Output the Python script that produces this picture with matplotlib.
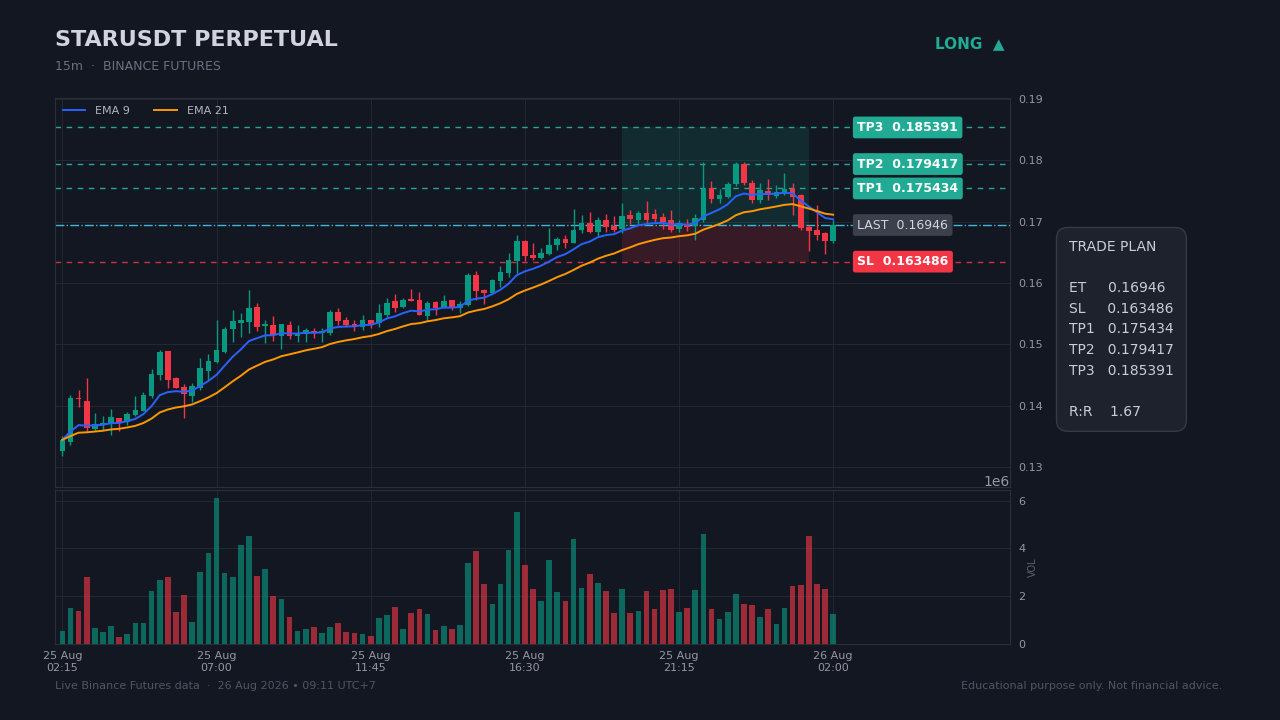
import numpy as np
import pandas as pd
import matplotlib
matplotlib.use("Agg")
import matplotlib.pyplot as plt
from matplotlib.ticker import FormatStrFormatter

# 15m candles, STARUSDT perp
opens = [0.1325, 0.1341, 0.1412, 0.1408, 0.1362, 0.1368, 0.1370, 0.1380, 0.1373, 0.1385,
         0.1391, 0.1415, 0.1450, 0.1489, 0.1445, 0.1430, 0.1416, 0.1429, 0.1457, 0.1471,
         0.1488, 0.1525, 0.1535, 0.1537, 0.1561, 0.1530, 0.1532, 0.1514, 0.1532, 0.1514,
         0.1516, 0.1522, 0.1519, 0.1519, 0.1552, 0.1539, 0.1533, 0.1529, 0.1540, 0.1534,
         0.1548, 0.1570, 0.1561, 0.1574, 0.1572, 0.1546, 0.1569, 0.1561, 0.1572, 0.1560,
         0.1564, 0.1613, 0.1588, 0.1583, 0.1604, 0.1617, 0.1636, 0.1668, 0.1646, 0.1641,
         0.1647, 0.1662, 0.1672, 0.1666, 0.1686, 0.1698, 0.1684, 0.1703, 0.1693, 0.1688,
         0.1711, 0.1703, 0.1714, 0.1712, 0.1707, 0.1703, 0.1688, 0.1697, 0.1693, 0.1703,
         0.1755, 0.1737, 0.1741, 0.1761, 0.1794, 0.1764, 0.1736, 0.1750, 0.1742, 0.1746,
         0.1753, 0.1744, 0.1691, 0.1686, 0.1681, 0.1669]
highs = [0.1350, 0.1417, 0.1426, 0.1445, 0.1388, 0.1383, 0.1395, 0.1380, 0.1390, 0.1416,
         0.1422, 0.1459, 0.1491, 0.1489, 0.1447, 0.1435, 0.1436, 0.1477, 0.1484, 0.1540,
         0.1529, 0.1556, 0.1551, 0.1589, 0.1568, 0.1540, 0.1546, 0.1533, 0.1538, 0.1532,
         0.1526, 0.1526, 0.1526, 0.1556, 0.1560, 0.1545, 0.1539, 0.1548, 0.1540, 0.1566,
         0.1575, 0.1582, 0.1575, 0.1590, 0.1586, 0.1570, 0.1570, 0.1580, 0.1573, 0.1570,
         0.1616, 0.1620, 0.1591, 0.1606, 0.1628, 0.1649, 0.1679, 0.1671, 0.1665, 0.1657,
         0.1690, 0.1675, 0.1678, 0.1720, 0.1711, 0.1716, 0.1707, 0.1712, 0.1709, 0.1730,
         0.1719, 0.1718, 0.1734, 0.1720, 0.1715, 0.1719, 0.1703, 0.1705, 0.1713, 0.1798,
         0.1767, 0.1754, 0.1765, 0.1798, 0.1798, 0.1768, 0.1764, 0.1769, 0.1760, 0.1780,
         0.1764, 0.1746, 0.1695, 0.1727, 0.1684, 0.1703]
lows = [0.1317, 0.1336, 0.1398, 0.1358, 0.1358, 0.1360, 0.1352, 0.1358, 0.1368, 0.1383,
        0.1391, 0.1412, 0.1442, 0.1428, 0.1428, 0.1379, 0.1405, 0.1426, 0.1442, 0.1469,
        0.1485, 0.1504, 0.1512, 0.1518, 0.1521, 0.1502, 0.1505, 0.1492, 0.1508, 0.1504,
        0.1504, 0.1511, 0.1504, 0.1515, 0.1532, 0.1529, 0.1522, 0.1523, 0.1526, 0.1529,
        0.1545, 0.1552, 0.1559, 0.1570, 0.1548, 0.1538, 0.1548, 0.1559, 0.1556, 0.1551,
        0.1562, 0.1572, 0.1566, 0.1582, 0.1594, 0.1609, 0.1617, 0.1636, 0.1638, 0.1639,
        0.1645, 0.1654, 0.1657, 0.1665, 0.1682, 0.1681, 0.1675, 0.1684, 0.1684, 0.1681,
        0.1697, 0.1697, 0.1697, 0.1700, 0.1688, 0.1684, 0.1684, 0.1685, 0.1670, 0.1700,
        0.1731, 0.1730, 0.1738, 0.1758, 0.1760, 0.1731, 0.1731, 0.1735, 0.1738, 0.1743,
        0.1711, 0.1686, 0.1653, 0.1671, 0.1648, 0.1665]
closes = [0.1344, 0.1412, 0.1410, 0.1363, 0.1370, 0.1372, 0.1382, 0.1373, 0.1386, 0.1393,
          0.1418, 0.1451, 0.1488, 0.1442, 0.1429, 0.1419, 0.1432, 0.1462, 0.1473, 0.1490,
          0.1525, 0.1538, 0.1539, 0.1560, 0.1529, 0.1533, 0.1515, 0.1533, 0.1514, 0.1518,
          0.1524, 0.1518, 0.1522, 0.1552, 0.1538, 0.1532, 0.1530, 0.1540, 0.1533, 0.1551,
          0.1568, 0.1560, 0.1572, 0.1571, 0.1548, 0.1568, 0.1560, 0.1571, 0.1559, 0.1565,
          0.1613, 0.1587, 0.1583, 0.1605, 0.1618, 0.1638, 0.1668, 0.1644, 0.1640, 0.1649,
          0.1662, 0.1672, 0.1666, 0.1686, 0.1698, 0.1684, 0.1703, 0.1692, 0.1686, 0.1709,
          0.1704, 0.1715, 0.1703, 0.1704, 0.1700, 0.1686, 0.1698, 0.1692, 0.1706, 0.1754,
          0.1737, 0.1744, 0.1761, 0.1794, 0.1764, 0.1735, 0.1752, 0.1744, 0.1749, 0.1754,
          0.1741, 0.1689, 0.1685, 0.1678, 0.1669, 0.16946]
# volume in millions
volumes_m = [0.54, 1.51, 1.38, 2.80, 0.67, 0.50, 0.75, 0.29, 0.42, 0.88,
             0.88, 2.22, 2.68, 2.80, 1.34, 2.05, 0.92, 3.01, 3.81, 6.11,
             2.97, 2.80, 4.14, 4.52, 2.85, 3.14, 2.01, 1.88, 1.13, 0.54,
             0.63, 0.71, 0.46, 0.71, 0.88, 0.50, 0.46, 0.42, 0.33, 1.09,
             1.21, 1.55, 0.63, 1.30, 1.46, 1.26, 0.59, 0.75, 0.63, 0.80,
             3.39, 3.89, 2.51, 1.67, 2.51, 3.93, 5.52, 3.31, 2.30, 1.80,
             3.51, 2.18, 1.80, 4.39, 2.34, 2.93, 2.55, 2.22, 1.30, 2.30,
             1.30, 1.38, 2.22, 1.46, 2.26, 2.30, 1.34, 1.51, 2.26, 4.60,
             1.46, 1.05, 1.34, 2.09, 1.67, 1.63, 1.13, 1.46, 0.84, 1.51,
             2.43, 2.47, 4.52, 2.51, 2.30, 1.26]

times = pd.date_range("2026-08-25 02:15", periods=len(closes), freq="15min")
tick_idx = [0, 19, 38, 57, 76, 95]

# trade plan
entry = 0.16946
sl = 0.163486
tp1 = 0.175434
tp2 = 0.179417
tp3 = 0.185391
rr = 1.67
plan_start, plan_end = 69, 92

BG = "#131722"
GRID = "#232733"
SPINE = "#2a2e39"
TXT = "#9598a1"
GREEN = "#089981"
RED = "#f23645"
TEAL_LBL = "#22ab94"

o = np.array(opens)
h = np.array(highs)
l = np.array(lows)
c = np.array(closes)
x = np.arange(len(c))
up = c >= o
cols = np.where(up, GREEN, RED)

ema9 = pd.Series(c).ewm(span=9, adjust=False).mean()
ema21 = pd.Series(c).ewm(span=21, adjust=False).mean()

fig = plt.figure(figsize=(12.8, 7.2), dpi=100, facecolor=BG)
ax = fig.add_axes([0.043, 0.3236, 0.7461, 0.5403], facecolor=BG)
axv = fig.add_axes([0.043, 0.1056, 0.7461, 0.2138], facecolor=BG, sharex=ax)

# plan zones
ax.fill_between([plan_start, plan_end], entry, tp3, color=GREEN, alpha=0.16, lw=0, zorder=1)
ax.fill_between([plan_start, plan_end], sl, entry, color=RED, alpha=0.16, lw=0, zorder=1)

# candles
ax.vlines(x, l, h, colors=cols, lw=1, zorder=3)
ax.bar(x, np.maximum(np.abs(c - o), 0.00008), bottom=np.minimum(o, c), width=0.7,
       color=cols, zorder=4)

ax.plot(x, ema9, color="#2962ff", lw=1.4, label="EMA 9", zorder=5)
ax.plot(x, ema21, color="#ff9800", lw=1.4, label="EMA 21", zorder=5)

# levels
for lvl in (tp3, tp2, tp1):
    ax.axhline(lvl, color="#26a69a", ls=(0, (4, 4)), lw=1, zorder=2)
ax.axhline(entry, color="#3fb8d8", ls="-.", lw=1, zorder=2)
ax.axhline(sl, color=RED, ls=(0, (4, 4)), lw=1, zorder=2, alpha=0.85)

yt = ax.get_yaxis_transform()
lbl_x = 0.840
for name, lvl in (("TP3", tp3), ("TP2", tp2), ("TP1", tp1)):
    ax.text(lbl_x, lvl, f"{name}  {lvl:.6f}", transform=yt, ha="left", va="center",
            fontsize=9, fontweight="bold", color="white", zorder=7,
            bbox=dict(boxstyle="round,pad=0.35,rounding_size=0.2", fc=TEAL_LBL, ec="none"))
ax.text(lbl_x, entry, f"LAST  {entry:.5f}", transform=yt, ha="left", va="center",
        fontsize=9, color="#d1d4dc", zorder=7,
        bbox=dict(boxstyle="round,pad=0.35,rounding_size=0.2", fc="#3b404c", ec="none"))
ax.text(lbl_x, sl, f"SL  {sl:.6f}", transform=yt, ha="left", va="center",
        fontsize=9, fontweight="bold", color="white", zorder=7,
        bbox=dict(boxstyle="round,pad=0.35,rounding_size=0.2", fc=RED, ec="none"))

ax.set_xlim(-0.9, 116.8)
ax.set_ylim(0.1267, 0.1902)
ax.set_yticks([0.13, 0.14, 0.15, 0.16, 0.17, 0.18, 0.19])
ax.yaxis.set_major_formatter(FormatStrFormatter("%.2f"))
ax.yaxis.tick_right()
ax.tick_params(axis="y", colors=TXT, labelsize=8, length=0, pad=6)
ax.tick_params(axis="x", length=0, labelbottom=False)
ax.grid(True, color=GRID, lw=0.8)
ax.set_axisbelow(True)

leg = ax.legend(loc="upper left", ncol=2, frameon=False, fontsize=8, labelcolor="#b2b5be",
                handlelength=2.0, handletextpad=0.9, columnspacing=2.2, borderaxespad=0.3)

# volume
vcols = np.where(up, GREEN, RED)
axv.bar(x, np.array(volumes_m) * 1e6, width=0.7, color=vcols, alpha=0.62, zorder=3)
axv.set_ylim(0, 6.44e6)
axv.set_yticks([0, 2e6, 4e6, 6e6])
axv.yaxis.tick_right()
axv.yaxis.set_label_position("right")
axv.set_ylabel("VOL", color="#5d606b", fontsize=7, labelpad=2)
axv.tick_params(axis="y", colors=TXT, labelsize=8, length=0, pad=6)
axv.tick_params(axis="x", colors=TXT, labelsize=8, length=0, pad=5)
axv.yaxis.get_offset_text().set_color(TXT)
axv.yaxis.get_offset_text().set_fontsize(10)
axv.set_xticks(tick_idx)
axv.set_xticklabels([times[i].strftime("%d %b\n%H:%M") for i in tick_idx])
axv.grid(True, color=GRID, lw=0.8)
axv.set_axisbelow(True)

for a in (ax, axv):
    for s in a.spines.values():
        s.set_color(SPINE)

# header
fig.text(55 / 1280, 0.944, "STARUSDT PERPETUAL", fontsize=16, fontweight="bold",
         color="#d1d4dc", va="center", ha="left")
fig.text(55 / 1280, 0.908, "15m  ·  BINANCE FUTURES", fontsize=9, color="#6b7080",
         va="center", ha="left")
fig.text(935 / 1280, 0.940, "LONG  ▲", fontsize=11, fontweight="bold", color="#22ab94",
         va="center", ha="left")

# trade plan box
plan = (
    "TRADE PLAN\n\n"
    f"ET     {entry:.5f}\n"
    f"SL     {sl:.6f}\n"
    f"TP1   {tp1:.6f}\n"
    f"TP2   {tp2:.6f}\n"
    f"TP3   {tp3:.6f}\n\n"
    f"R:R    {rr:.2f}"
)
fig.text(1069 / 1280, 1 - 240 / 720, plan, fontsize=10, color="#c9cdd6", va="top", ha="left",
         linespacing=1.6,
         bbox=dict(boxstyle="round,pad=0.9,rounding_size=0.8", fc="#1e222d", ec="#363a45"))

# footer
fig.text(55 / 1280, 0.047, "Live Binance Futures data  ·  26 Aug 2026 • 09:11 UTC+7",
         fontsize=8, color="#4f5563", va="center", ha="left")
fig.text(961 / 1280, 0.047, "Educational purpose only. Not financial advice.",
         fontsize=8, color="#4f5563", va="center", ha="left")

fig.savefig("out.png", dpi=100, facecolor=BG)
